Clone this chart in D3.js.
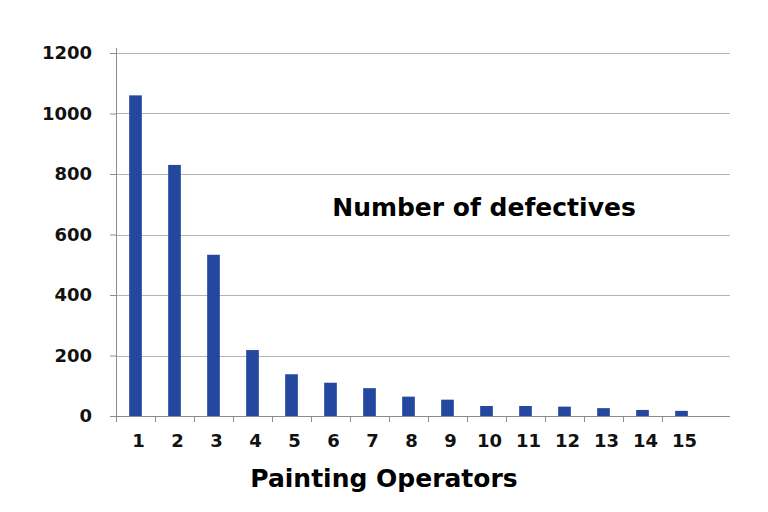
<!DOCTYPE html>
<html>
<head>
    <meta charset="utf-8">
    <title>Number of defectives by Painting Operator</title>
    <script src="https://d3js.org/d3.v7.min.js"></script>
    <style>
        body {
            margin: 0;
            background-color: #ffffff;
            font-family: "DejaVu Sans", sans-serif;
        }
        svg {
            display: block;
        }
        .grid line {
            stroke: #b4b4b4;
            stroke-width: 1px;
            shape-rendering: crispEdges;
        }
        .axis-y path,
        .axis-x path {
            display: none;
        }
        .axis-y text,
        .axis-x text {
            font-family: "DejaVu Sans", sans-serif;
            font-size: 18px;
            font-weight: bold;
            fill: #111;
        }
        .axis-line {
            stroke: #8c8c8c;
            stroke-width: 1px;
            shape-rendering: crispEdges;
        }
        .bar {
            fill: #2448a0;
        }
        .title {
            font-size: 25px;
            font-weight: bold;
            fill: #000;
        }
    </style>
</head>
<body>
    <svg width="768" height="512"></svg>

    <script>
        const operators = ["1", "2", "3", "4", "5", "6", "7", "8", "9", "10", "11", "12", "13", "14", "15"];
        const defectives = [1060, 830, 533, 218, 138, 110, 92, 64, 54, 33, 33, 31, 26, 20, 17];
        const yTicks = [0, 200, 400, 600, 800, 1000, 1200];

        const data = operators.map((op, i) => ({ op: op, value: defectives[i] }));

        const svg = d3.select("svg");

        const plotLeft = 116, plotRight = 730, plotTop = 53, plotBottom = 416;

        const x = d3.scaleBand()
                    .domain(operators)
                    .range([plotLeft, 701])
                    .paddingInner(0.675)
                    .paddingOuter(0.3375);

        const y = d3.scaleLinear()
                    .domain([0, 1200])
                    .range([plotBottom, plotTop]);

        // gridlines
        svg.append("g")
           .attr("class", "grid")
           .selectAll("line")
           .data(yTicks.filter(d => d > 0))
           .enter()
           .append("line")
           .attr("x1", plotLeft)
           .attr("x2", plotRight)
           .attr("y1", d => Math.round(y(d)) + 0.5)
           .attr("y2", d => Math.round(y(d)) + 0.5);

        // y axis labels + small ticks
        const yAxis = svg.append("g")
           .attr("class", "axis-y")
           .attr("transform", `translate(${plotLeft},0)`)
           .call(d3.axisLeft(y).tickValues(yTicks).tickFormat(d3.format("d")).tickSize(6).tickPadding(18));
        yAxis.selectAll(".tick line").attr("stroke", "#8c8c8c");

        // y axis line
        svg.append("line")
           .attr("class", "axis-line")
           .attr("x1", plotLeft + 0.5)
           .attr("x2", plotLeft + 0.5)
           .attr("y1", 48)
           .attr("y2", plotBottom);

        // bars
        svg.selectAll(".bar")
           .data(data)
           .enter()
           .append("rect")
           .attr("class", "bar")
           .attr("x", d => x(d.op))
           .attr("width", x.bandwidth())
           .attr("y", d => y(d.value))
           .attr("height", d => y(0) - y(d.value));

        // x axis line
        svg.append("line")
           .attr("class", "axis-line")
           .attr("x1", plotLeft)
           .attr("x2", plotRight)
           .attr("y1", plotBottom + 0.5)
           .attr("y2", plotBottom + 0.5);

        // category boundary ticks
        const gap = (x.step() - x.bandwidth()) / 2;
        svg.append("g")
           .selectAll("line")
           .data(operators)
           .enter()
           .append("line")
           .attr("class", "axis-line")
           .attr("x1", d => Math.round(x(d) - gap) + 0.5)
           .attr("x2", d => Math.round(x(d) - gap) + 0.5)
           .attr("y1", plotBottom)
           .attr("y2", plotBottom + 6);

        // x axis labels
        svg.append("g")
           .attr("class", "axis-x")
           .attr("transform", `translate(3,${plotBottom})`)
           .call(d3.axisBottom(x).tickSize(0).tickPadding(18));

        // titles
        svg.append("text")
           .attr("class", "title")
           .attr("x", 384)
           .attr("y", 487)
           .attr("text-anchor", "middle")
           .text("Painting Operators");

        svg.append("text")
           .attr("class", "title")
           .attr("x", 484)
           .attr("y", 216)
           .attr("text-anchor", "middle")
           .text("Number of defectives");
    </script>
</body>
</html>
